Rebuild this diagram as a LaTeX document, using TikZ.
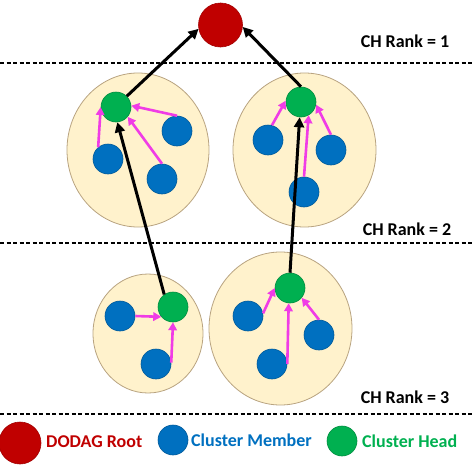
\documentclass[tikz,border=0pt]{standalone}
\usepackage{fontspec}
\setmainfont{Carlito}
\usepackage{xcolor}
\usetikzlibrary{arrows.meta,shapes.geometric}
\definecolor{rootred}{HTML}{C00000}
\definecolor{memblue}{HTML}{0070C0}
\definecolor{headgreen}{HTML}{00B050}
\definecolor{linkpink}{RGB}{240,60,230}
\definecolor{clusterfill}{HTML}{FFF2CC}
\definecolor{clusteredge}{HTML}{B8A380}

\begin{document}
\begin{tikzpicture}[x=1pt,y=-1pt,
  cluster/.style={ellipse,draw=clusteredge,fill=clusterfill,line width=0.8pt,inner sep=0pt},
  member/.style={circle,fill=memblue,draw=memblue!80!black,line width=0.6pt,minimum size=30pt,inner sep=0pt},
  head/.style={circle,fill=headgreen,draw=headgreen!80!black,line width=0.6pt,minimum size=30pt,inner sep=0pt},
  rootnode/.style={circle,fill=rootred,draw=rootred!85!black,line width=0.6pt,minimum size=44pt,inner sep=0pt},
  uplink/.style={line width=3pt,-{Triangle[length=10pt,width=10pt]}},
  joinlink/.style={linkpink,line width=2.6pt,-{Triangle[length=8pt,width=8.5pt]}},
  rankline/.style={line width=2pt,dash pattern=on 4pt off 2.5pt},
  txt/.style={font=\fontsize{18}{21}\selectfont\bfseries,inner sep=0pt}]
\useasboundingbox (0,0) rectangle (474,474);

\draw[rankline] (0,63) -- (474,63);
\draw[rankline] (0,243) -- (474,243);
\draw[rankline] (0,414) -- (474,414);

\node[txt] (rank1) at (405,41) {CH Rank = 1};
\node[txt] (rank2) at (407,229) {CH Rank = 2};
\node[txt] (rank3) at (405,397) {CH Rank = 3};

% clusters
\node[cluster,minimum width=142pt,minimum height=154pt] (clu1) at (138,150) {};
\node[cluster,minimum width=143pt,minimum height=154pt] (clu2) at (304.5,150) {};
\node[cluster,minimum width=110pt,minimum height=119pt] (clu3) at (148,333.5) {};
\node[cluster,minimum width=143pt,minimum height=153pt] (clu4) at (280.5,328.5) {};

\node[rootnode] (root) at (220.5,25) {};

\node[head] (ch1) at (116,107) {};
\node[member] (m11) at (108,159) {};
\node[member] (m12) at (177,131) {};
\node[member] (m13) at (162,179) {};

\node[head] (ch2) at (301,102) {};
\node[member] (m21) at (268,140) {};
\node[member] (m22) at (331,150) {};
\node[member] (m23) at (304,192) {};

\node[head] (ch3) at (173,307) {};
\node[member] (m31) at (120,316) {};
\node[member] (m32) at (156,364) {};

\node[head] (ch4) at (290,288) {};
\node[member] (m41) at (248,316) {};
\node[member] (m42) at (319,335) {};
\node[member] (m43) at (272,364) {};

% members to heads
\draw[joinlink] (m11.130) -- (ch1.180);
\draw[joinlink] (m12.north) -- (ch1.5);
\draw[joinlink] (m13.north) -- (ch1.-40);
\draw[joinlink] (m21.75) -- (ch2.175);
\draw[joinlink] (m22.north) -- (ch2.-10);
\draw[joinlink] (m23.north) -- (ch2.-60);
\draw[joinlink] (m31.east) -- (ch3.220);
\draw[joinlink] (m32.5) -- (ch3.-90);
\draw[joinlink] (m41.10) -- (ch4.180);
\draw[joinlink] (m42.north) -- (ch4.-40);
\draw[joinlink] (m43.east) -- (ch4.-95);

% heads to parents
\draw[uplink] (ch1.45) -- (root.190);
\draw[uplink] (ch2.north) -- (root.-5);
\draw[uplink] (ch3.125) -- (ch1.-85);
\draw[uplink] (ch4.north) -- (ch2.-95);

% legend
\node[rootnode,minimum size=42pt] (lroot) at (20,443) {};
\node[txt,anchor=west,text=rootred] (lroottxt) at (46,442) {DODAG Root};
\node[member] (lmem) at (173,440) {};
\node[txt,anchor=west,text=memblue] (lmemtxt) at (191,440) {Cluster Member};
\node[head] (lhead) at (342,441) {};
\node[txt,anchor=west,text=headgreen] (lheadtxt) at (362,441) {Cluster Head};
\end{tikzpicture}
\end{document}
